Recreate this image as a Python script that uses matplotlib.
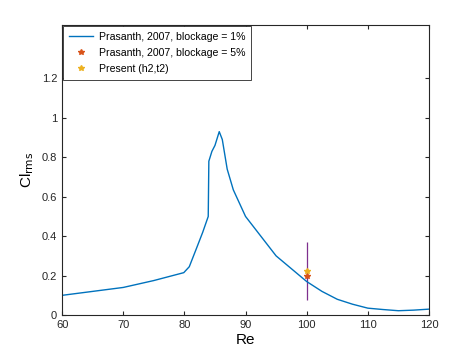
import matplotlib.pyplot as plt
import numpy as np

plt.rcParams['font.family'] = ['Liberation Sans', 'DejaVu Sans']

# Prasanth 2007, blockage = 1%
re_1 = [60, 65, 70, 75, 79.9, 80.8, 82, 83, 83.9, 84.0, 84.5, 85.0, 85.7,
        86.2, 87, 88, 90, 92.5, 95, 97.5, 100, 102.5, 105, 107.5, 110,
        112.5, 115, 117.5, 120]
cl_1 = [0.10, 0.12, 0.14, 0.175, 0.215, 0.245, 0.34, 0.42, 0.50, 0.78, 0.83,
        0.86, 0.93, 0.89, 0.74, 0.635, 0.50, 0.40, 0.30, 0.235, 0.17, 0.12,
        0.08, 0.055, 0.035, 0.028, 0.022, 0.025, 0.03]

# Prasanth 2007, blockage = 5%
re_5 = [100]
cl_5 = [0.20]

# present result (h2,t2)
re_p = [100]
cl_p = [0.225]
cl_p_err = [0.147]

fig, ax = plt.subplots(figsize=(4.74, 3.54), dpi=100)
fig.subplots_adjust(left=0.131, right=0.905, bottom=0.110, top=0.929)

ax.errorbar(re_p, cl_p, yerr=cl_p_err, fmt='none', ecolor=(0.494, 0.184, 0.556),
            elinewidth=0.9, capsize=0)
ax.plot(re_1, cl_1, color=(0.0, 0.447, 0.741), lw=1.0,
        label='Prasanth, 2007, blockage = 1%')
ax.plot(re_5, cl_5, '*', color=(0.85, 0.325, 0.098), ms=4, ls='none',
        label='Prasanth, 2007, blockage = 5%')
ax.plot(re_p, cl_p, '*', color=(0.929, 0.694, 0.125), ms=4, ls='none',
        label='Present (h2,t2)')

ax.set_xlim(60, 120)
ax.set_ylim(0, 1.47)
ax.set_xticks(np.arange(60, 121, 10))
ax.set_yticks([0, 0.2, 0.4, 0.6, 0.8, 1.0, 1.2])
ax.set_yticklabels(['0', '0.2', '0.4', '0.6', '0.8', '1', '1.2'])
ax.tick_params(direction='in', top=True, right=True, labelsize=8,
               length=3, width=0.8, colors='#262626')
for s in ax.spines.values():
    s.set_linewidth(0.8)
    s.set_color('#262626')

ax.set_xlabel('Re', fontsize=11, labelpad=2)
ax.set_ylabel('Cl$_{\\rm rms}$', fontsize=11, labelpad=4)

leg = ax.legend(loc='upper left', fontsize=7.6, fancybox=False, framealpha=1,
                edgecolor='#262626', borderaxespad=0.05, handlelength=2.3,
                borderpad=0.6, labelspacing=0.55, handletextpad=0.5)
leg.get_frame().set_linewidth(0.6)

plt.savefig('out.png', dpi=100)
